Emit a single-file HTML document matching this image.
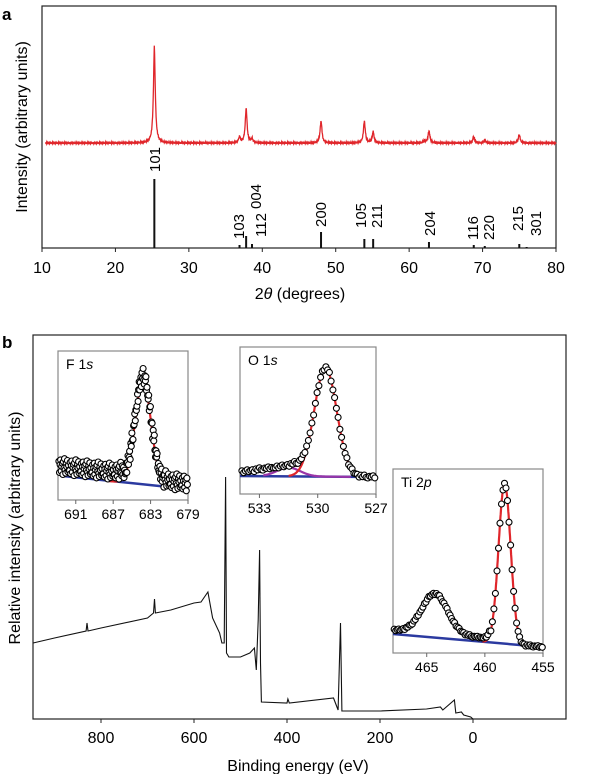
<!DOCTYPE html>
<html><head><meta charset="utf-8"><style>
body{margin:0;background:#fff}
svg{display:block;font-family:"Liberation Sans",sans-serif}
</style></head><body>
<svg id="fig" width="600" height="774" viewBox="0 0 600 774">
<g id="pa"></g>
<g id="pb"></g>
</svg>
<script>
// ---- Panel a data ----
const xrdTicks=[10,20,30,40,50,60,70,80];
const redPos=[25.3,36.9,37.8,38.6,48.0,53.9,55.1,62.1,62.7,68.8,70.3,75.0];
const redH=[96,6,34,4,22,22,11,2,12,6,3,8];
const stickPos=[25.3,36.9,37.8,38.6,48.0,53.9,55.1,62.7,68.8,70.3,75.0,76.0];
const stickH=[69,3,12,4,16,9,9,6,3,2,4,1];
const stickLbl=["101","103","004","112","200","105","211","204","116","220","215","301"];
// ---- Panel b data ----
const surveyE=[946,900,832,830,828,800,700,687,685,683,650,600,585,570,560,545,540,535,532,530,525,500,480,470,466,462,459,457,455,400,398,395,300,290,285,282,200,100,70,65,40,37,25,20,5,0];
const surveyI=[76,81,88,96,88,91,101,106,120,106,109,116,117,127,101,86,76,76,242,66,62,62,66,71,49,99,169,56,17,16,20,16,21,9,96,8,8,10,12,9,19,6,7,4,2,0];
const bTicks=[800,600,400,200,0];
const fTicks=[691,687,683,679];
const oTicks=[533,530,527];
const tTicks=[465,460,455];
const fPeak=[683.8,1.0,0.85];   // center, height, sigma
const oPeak=[529.6,1.0,0.58];
const oShoulder=[531.5,0.08,0.6];
const tPeakA=[458.3,1.0,0.52];
const tPeakB=[464.3,0.25,1.1];
const noise=[2,-3,4,-1,-4,3,0,-2,5,-3,1,-5,2,4,-2,0,-4,3,-1,2];

// label layout (positions, not data)
const lblX=[155,239,256,261,321,361,377,430,473,489,518,536];
const lblBottom=[172,239,209,237,227,228,228,236,240,240,231,236];

const NS="http://www.w3.org/2000/svg";
function mk(parent,tag,attrs,text){const e=document.createElementNS(NS,tag);for(const k in attrs)e.setAttribute(k,attrs[k]);if(text!==undefined)e.textContent=text;parent.appendChild(e);return e;}

// ===== Panel a =====
const pa=document.getElementById('pa');
const ax=v=>42+(v-10)*(556-42)/70;
const redBase=143, blackBase=248;
let t=mk(pa,'text',{x:2,y:20,'font-size':17,'font-weight':'bold'},'a');

let r=mk(pa,'rect',{x:42,y:6,width:514,height:242,fill:'none',stroke:'#222','stroke-width':1.2});

let d='',k=0;
for(let x=10.5;x<=80;x+=0.04){let s=0;for(let i=0;i<redPos.length;i++){const u=(x-redPos[i])/0.15;s+=redH[i]/(1+u*u);}k++;d+=(d?'L':'M')+ax(x).toFixed(1)+','+(redBase-s+noise[k%noise.length]*0.25).toFixed(1);}
let p=mk(pa,'path',{d:d,fill:'none',stroke:'#e0262b','stroke-width':1.3});

for(let i=0;i<stickPos.length;i++){
 let l=mk(pa,'rect',{x:ax(stickPos[i])-1,y:blackBase-stickH[i],width:2,height:stickH[i],fill:'#111'});
 
 const lx=lblX[i]+5, ly=lblBottom[i];
 let tl=mk(pa,'text',{x:lx,y:ly,'font-size':15,transform:`rotate(-90 ${lx} ${ly})`},stickLbl[i]);
 
}
xrdTicks.forEach(v=>{
 let tk=mk(pa,'line',{x1:ax(v),x2:ax(v),y1:248,y2:252,stroke:'#222'});
 
 let tt=mk(pa,'text',{x:ax(v),y:273,'font-size':16,'text-anchor':'middle'},v);
 
});
t=mk(pa,'text',{x:300,y:299,'font-size':16,'text-anchor':'middle'});
t.innerHTML='2<tspan font-style="italic">θ</tspan> (degrees)';

t=mk(pa,'text',{x:27,y:127,'font-size':16,'text-anchor':'middle',transform:'rotate(-90 27 127)'},'Intensity (arbitrary units)');


// ===== Panel b =====
const pb=document.getElementById('pb');
const bx=e=>473-e*0.465, by=v=>719-v;
t=mk(pb,'text',{x:2,y:348,'font-size':17,'font-weight':'bold'},'b');

r=mk(pb,'rect',{x:33,y:335,width:533,height:384,fill:'none',stroke:'#222','stroke-width':1.2});

d='';surveyE.forEach((e,i)=>{d+=(i?'L':'M')+bx(e).toFixed(1)+','+by(surveyI[i]).toFixed(1);});
p=mk(pb,'path',{d:d,fill:'none',stroke:'#111','stroke-width':1.1});

bTicks.forEach(v=>{
 let tk=mk(pb,'line',{x1:bx(v),x2:bx(v),y1:719,y2:723,stroke:'#222'});
 
 let tt=mk(pb,'text',{x:bx(v),y:743,'font-size':16,'text-anchor':'middle'},v);
 
});
t=mk(pb,'text',{x:298,y:771,'font-size':16,'text-anchor':'middle'},'Binding energy (eV)');

t=mk(pb,'text',{x:20,y:528,'font-size':16,'text-anchor':'middle',transform:'rotate(-90 20 528)'},'Relative intensity (arbitrary units)');


function g(e,pk){const u=(e-pk[0])/pk[2];return pk[1]*Math.exp(-0.5*u*u);}
function inset(o){
 const G=mk(pb,'g',{});
 
 const X=e=>o.x0+(o.eL-e)*(o.x1-o.x0)/(o.eL-o.eR);
 const bl=e=>o.blL+(o.blR-o.blL)*(o.eL-e)/(o.eL-o.eR);
 let fr=mk(G,'rect',{x:o.x0,y:o.y0,width:o.x1-o.x0,height:o.y1-o.y0,fill:'#fff',stroke:'#888','stroke-width':1.2});
 
 let b=mk(G,'line',{x1:X(o.eL)+o.bp,y1:bl(o.eL),x2:X(o.eR),y2:bl(o.eR),stroke:'#2b3aa0','stroke-width':2.5});
 
 const model=e=>{let s=0;o.peaks.forEach(pk=>s+=g(e,pk));return bl(e)-o.plat(e)-s*o.amp;};
 if(o.extra){let dd='';for(let e=o.extra[0];e>=o.extra[1];e-=0.02){const v=bl(e)-g(e,o.extra[2])*o.amp;dd+=(dd?'L':'M')+X(e).toFixed(1)+','+v.toFixed(1);}
  let pp=mk(G,'path',{d:dd,fill:'none',stroke:'#9a35a8','stroke-width':2.2});}
 let fd='';for(let e=o.fit[0];e>=o.fit[1];e-=0.02){let s=0;o.peaks.forEach(pk=>s+=g(e,pk));fd+=(fd?'L':'M')+X(e).toFixed(1)+','+(bl(e)-s*o.amp).toFixed(1);}
 let fp=mk(G,'path',{d:fd,fill:'none',stroke:'#e0262b','stroke-width':2.2});
 let i=0;
 for(let e=o.eL-0.1;e>=o.eR+0.05;e-=o.step){
  i++;
  const c=mk(G,'circle',{cx:X(e).toFixed(1),cy:(model(e)+noise[i%noise.length]*o.jit).toFixed(1),r:3,fill:'#fff',stroke:'#000','stroke-width':1.1});
  
 }
 o.ticks.forEach(v=>{let tk=mk(G,'line',{x1:X(v),x2:X(v),y1:o.y1,y2:o.y1+4,stroke:'#666'});
  let tt=mk(G,'text',{x:X(v),y:o.y1+19,'font-size':14,'text-anchor':'middle'},v);});
 let lb=mk(G,'text',{x:o.x0+8,y:o.y0+18,'font-size':14});lb.innerHTML=o.label;
 
}
inset({name:'inset-f1s',x0:58,x1:188,y0:351,y1:500,eL:692.9,eR:679,blL:476,blR:489,bp:5,amp:104,peaks:[fPeak],plat:e=>e>686?10:(e<681.5?6:4),fit:[687.5,680.5],step:0.06,jit:1.6,ticks:fTicks,label:'F 1<tspan font-style="italic">s</tspan>'});
inset({name:'inset-o1s',x0:240,x1:376,y0:347,y1:494,eL:534,eR:527,blL:476,blR:477,bp:0,amp:109,peaks:[oPeak],plat:e=>{const a=e>530.3?Math.min(1,(e-530.3)/0.9):0;return a*(11-(e>531.5?(e-531.5)*2.8:0));},fit:[531.5,527.5],step:0.09,jit:0.3,ticks:oTicks,label:'O 1<tspan font-style="italic">s</tspan>',extra:[532.8,528.3,oShoulder]});
inset({name:'inset-ti2p',x0:393,x1:543,y0:469,y1:653,eL:467.9,eR:455,blL:634,blR:647,bp:0,amp:160,peaks:[tPeakA,tPeakB],plat:e=>e>459.6?4:0,fit:[460.2,455.5],step:0.13,jit:0.2,ticks:tTicks,label:'Ti 2<tspan font-style="italic">p</tspan>'});
</script>
</body></html>
